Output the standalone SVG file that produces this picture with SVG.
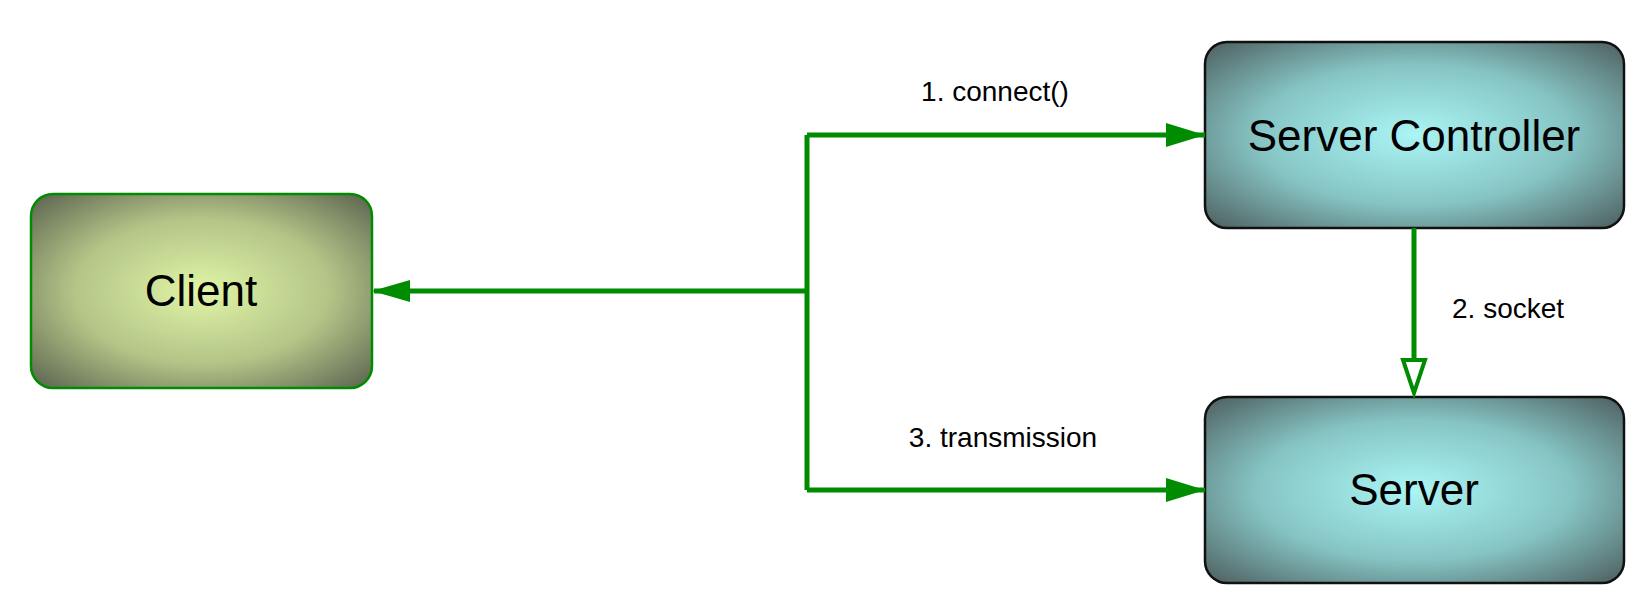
<svg xmlns="http://www.w3.org/2000/svg" width="1650" height="614" viewBox="0 0 1650 614">
<defs>
<radialGradient id="gc" cx="50%" cy="50%" r="75%"><stop offset="0" stop-color="#e0f5a6"/><stop offset="0.5" stop-color="#b3c487"/><stop offset="1" stop-color="#4d5447"/></radialGradient>
<radialGradient id="gs" cx="50%" cy="50%" r="75%"><stop offset="0" stop-color="#abf5f5"/><stop offset="0.5" stop-color="#86c4c4"/><stop offset="1" stop-color="#45504f"/></radialGradient>
</defs>
<style>
text{font-family:"Liberation Sans",Arial,sans-serif;fill:#000}
.n{font-size:44px;text-anchor:middle}
.l{font-size:28px}
.c{fill:none;stroke:#008c00;stroke-width:5}
.h{fill:#008c00}
</style>
<rect width="1650" height="614" fill="#fff"/>
<g id="client"><rect x="31" y="194" width="341" height="194" rx="22" fill="url(#gc)" stroke="#008c00" stroke-width="2.5"/><text class="n" x="201" y="306">Client</text></g>
<g id="controller"><rect x="1205" y="42" width="419" height="186" rx="22" fill="url(#gs)" stroke="#111" stroke-width="2.5"/><text class="n" x="1414" y="151">Server Controller</text></g>
<g id="server"><rect x="1205" y="397" width="419" height="186" rx="22" fill="url(#gs)" stroke="#111" stroke-width="2.5"/><text class="n" x="1414" y="505">Server</text></g>
<g id="connectors">
<path class="c" d="M807,291 L374,291"/>
<path class="h" d="M372,291 L410,280 L410,302 z"/>
<path class="c" d="M807,135 L807,490"/>
<path class="c" d="M807,135 L1205,135"/>
<path class="h" d="M1205,135 L1166,123 L1166,147 z"/>
<path class="c" d="M807,490 L1205,490"/>
<path class="h" d="M1205,490 L1166,478 L1166,502 z"/>
<path class="c" d="M1414,228 L1414,360"/>
<path d="M1403,360 L1425,360 L1414,393 z" fill="#fff" stroke="#008c00" stroke-width="4"/>
<text class="l" x="995" y="101" text-anchor="middle">1. connect()</text>
<text class="l" x="1452" y="318">2. socket</text>
<text class="l" x="1003" y="447" text-anchor="middle">3. transmission</text>
</g>
</svg>
